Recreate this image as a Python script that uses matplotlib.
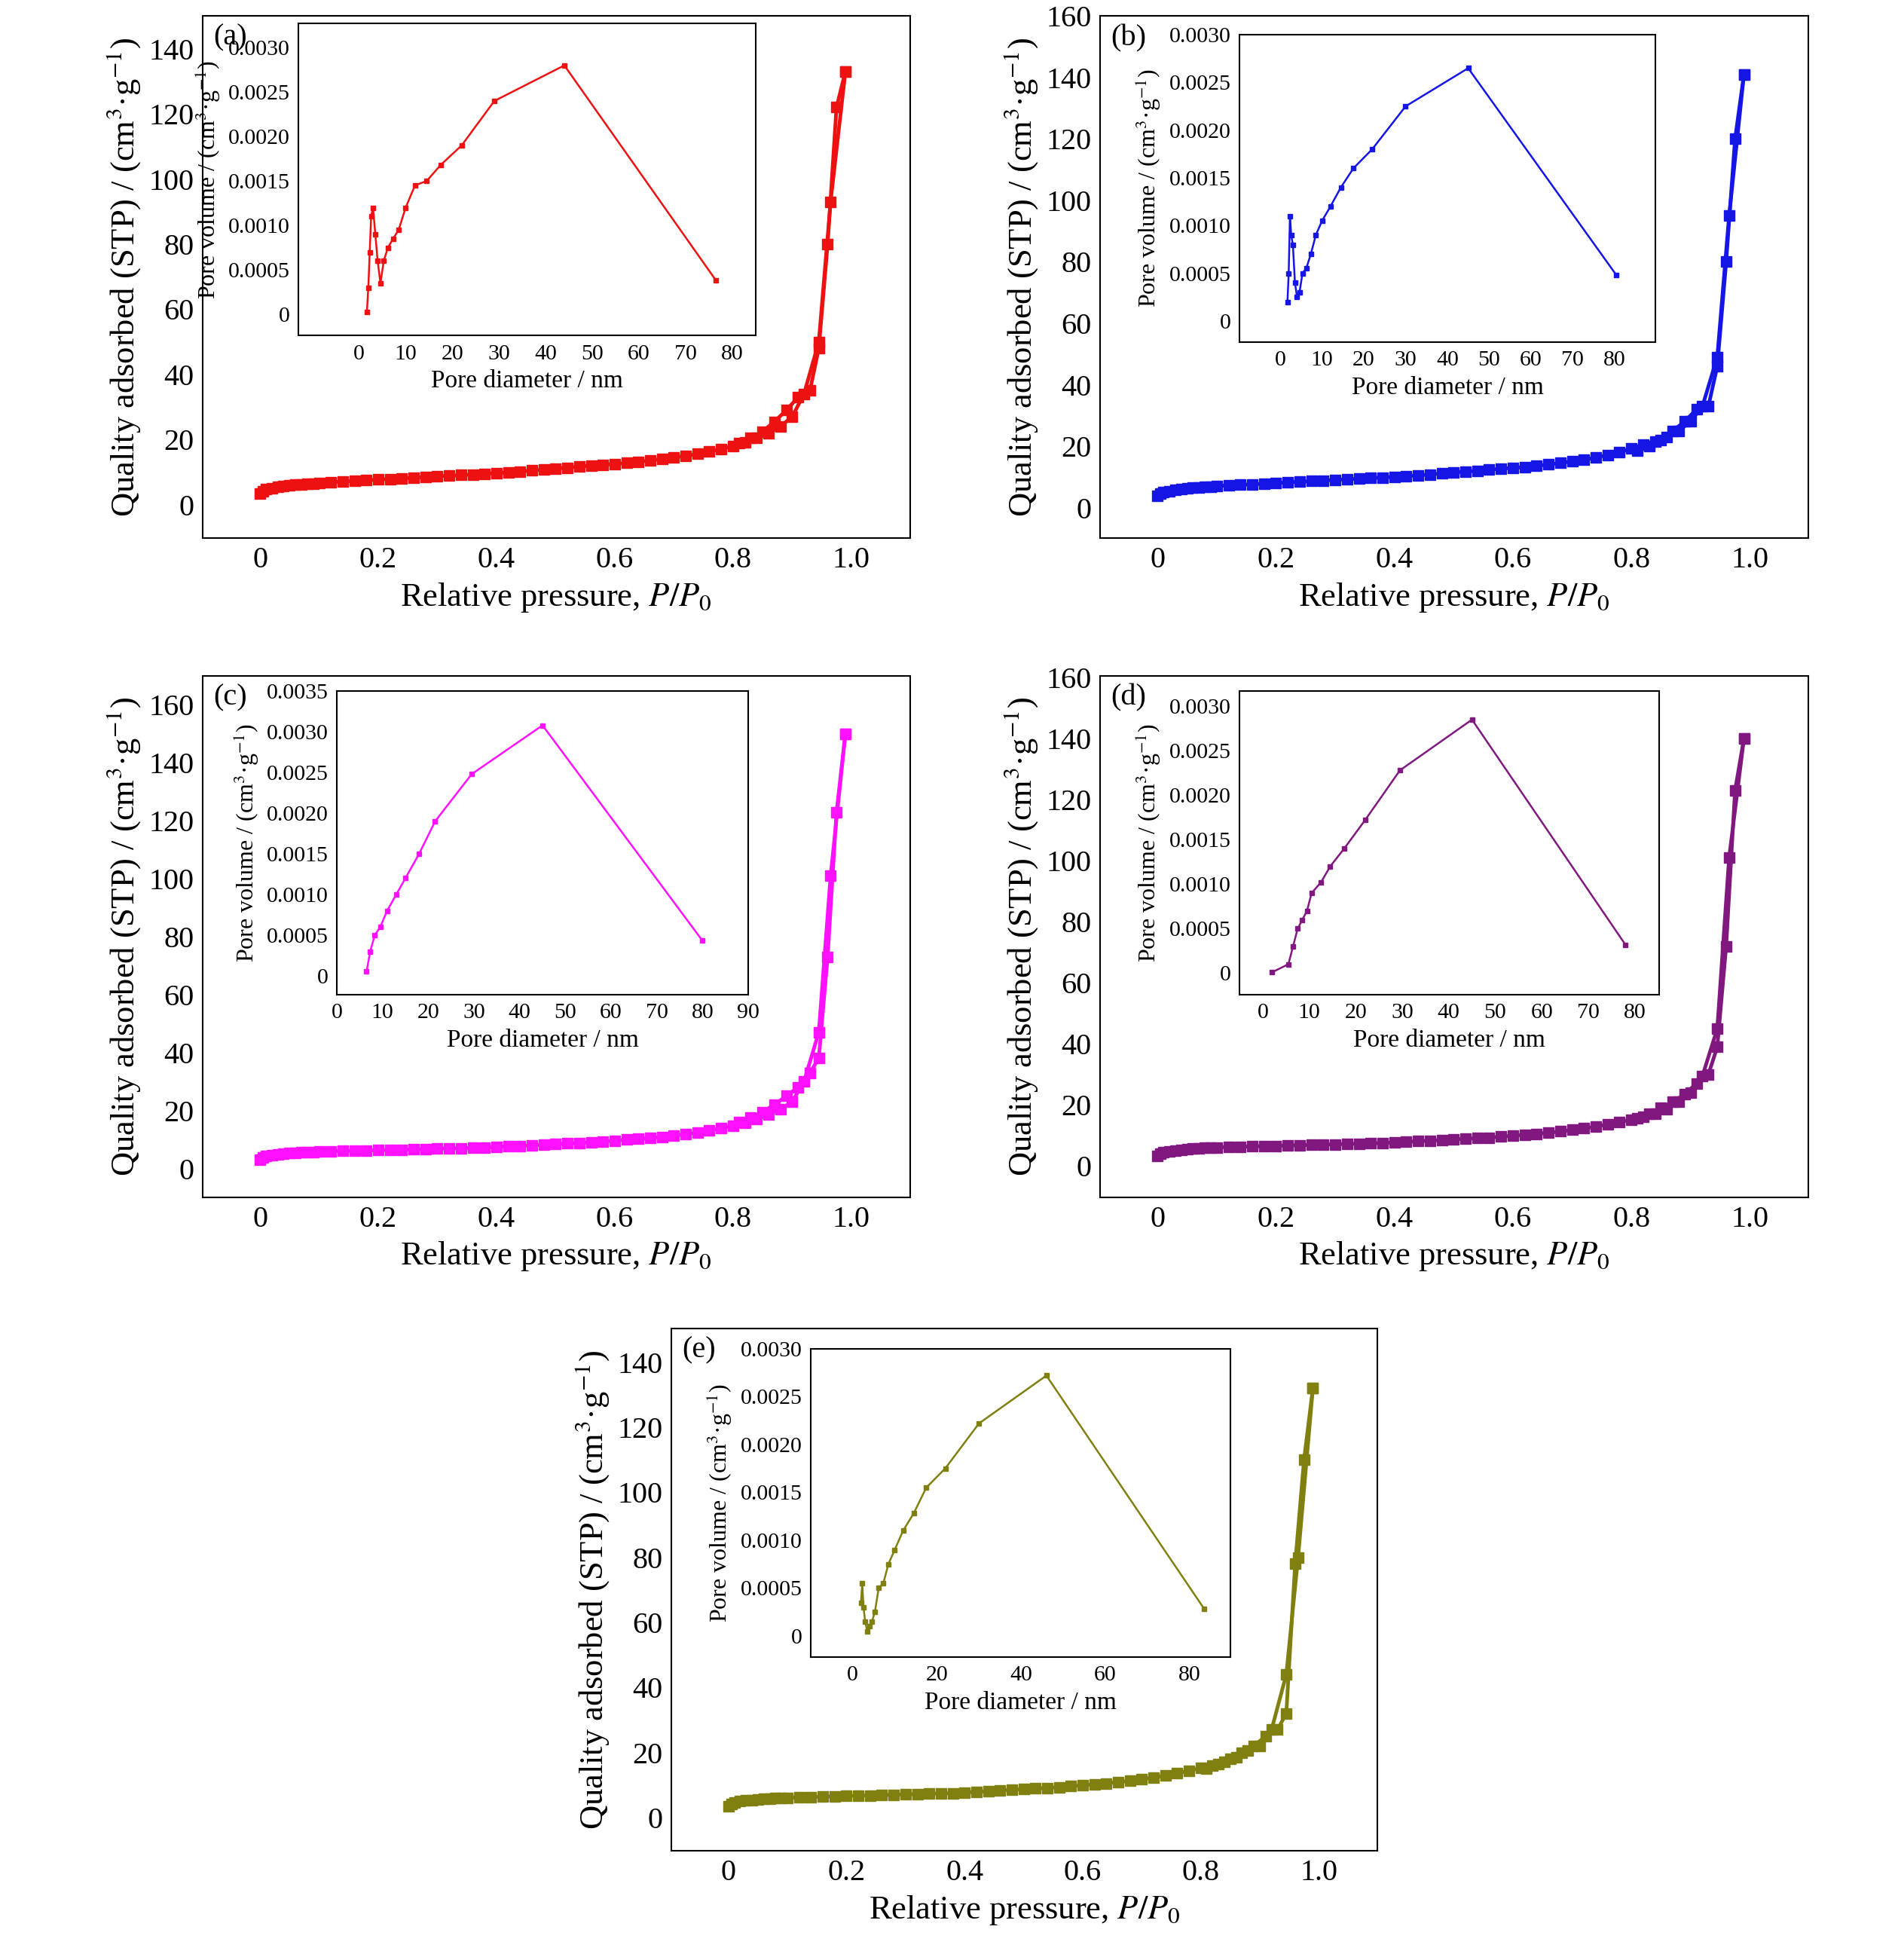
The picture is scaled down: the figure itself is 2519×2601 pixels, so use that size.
import matplotlib
matplotlib.use("Agg")
import matplotlib.pyplot as plt

plt.rcParams['font.family'] = ['Liberation Serif', 'DejaVu Serif']
plt.rcParams['mathtext.fontset'] = 'stix'

W, H = 2519, 2601
S = 2519 / 1527.0

# ---- isotherm data ----
p_ads = [0.0, 0.005, 0.01, 0.02, 0.03, 0.04, 0.05, 0.06, 0.07, 0.08, 0.09, 0.10,
         0.12, 0.14, 0.16, 0.18, 0.20, 0.22, 0.24, 0.26, 0.28, 0.30, 0.32, 0.34,
         0.36, 0.38, 0.40, 0.42, 0.44, 0.46, 0.48, 0.50, 0.52, 0.54, 0.56, 0.58,
         0.60, 0.62, 0.64, 0.66, 0.68, 0.70, 0.72, 0.74, 0.76, 0.78, 0.80, 0.82,
         0.84, 0.86, 0.88, 0.90, 0.92, 0.945, 0.965, 0.99]
p_des = [0.99, 0.975, 0.96, 0.945, 0.93, 0.91, 0.89, 0.87, 0.85, 0.83, 0.81]

q_ads_a = [3.5, 4.2, 4.7, 5.1, 5.4, 5.7, 5.9, 6.1, 6.3, 6.4, 6.5, 6.7,
           6.9, 7.1, 7.3, 7.5, 7.7, 7.9, 8.1, 8.3, 8.5, 8.7, 8.9, 9.1,
           9.3, 9.5, 9.7, 9.9, 10.2, 10.5, 10.8, 11.1, 11.4, 11.7, 12.0, 12.3,
           12.5, 12.8, 13.2, 13.6, 14.0, 14.5, 15.0, 15.6, 16.3, 17.1, 18.0, 19.2,
           20.5, 22.0, 24.0, 27.0, 34.0, 50.0, 93.0, 133.0]
q_des_a = [133.0, 122.0, 80.0, 48.0, 35.0, 33.0, 29.0, 25.5, 22.5, 20.5, 19.0]

q_ads_b = [3.8, 4.6, 5.0, 5.4, 5.7, 6.0, 6.2, 6.4, 6.6, 6.7, 6.8, 7.0,
           7.2, 7.4, 7.6, 7.8, 8.0, 8.2, 8.4, 8.6, 8.8, 9.0, 9.2, 9.4,
           9.6, 9.8, 10.0, 10.2, 10.5, 10.8, 11.1, 11.4, 11.7, 12.0, 12.3, 12.6,
           12.9, 13.2, 13.6, 14.0, 14.5, 15.0, 15.6, 16.3, 17.1, 18.0, 19.2, 20.5,
           21.5, 23.0, 25.0, 28.0, 33.0, 49.0, 95.0, 141.0]
q_des_b = [141.0, 120.0, 80.0, 46.0, 33.0, 32.0, 28.0, 25.0, 22.0, 20.0, 18.5]

q_ads_c = [3.0, 3.8, 4.2, 4.6, 4.9, 5.1, 5.3, 5.4, 5.5, 5.6, 5.7, 5.8,
           5.9, 6.0, 6.1, 6.2, 6.3, 6.4, 6.5, 6.6, 6.7, 6.8, 6.9, 7.0,
           7.1, 7.2, 7.4, 7.6, 7.8, 8.0, 8.2, 8.4, 8.6, 8.8, 9.0, 9.3,
           9.6, 9.9, 10.2, 10.5, 10.9, 11.3, 11.8, 12.4, 13.1, 13.9, 14.8, 15.8,
           17.0, 18.6, 20.5, 23.0, 30.0, 47.0, 101.0, 150.0]
q_des_c = [150.0, 123.0, 73.0, 38.0, 33.0, 28.0, 25.0, 22.0, 19.5, 17.5, 16.0]

q_ads_d = [3.2, 4.0, 4.4, 4.8, 5.1, 5.3, 5.5, 5.7, 5.8, 5.9, 6.0, 6.1,
           6.2, 6.3, 6.4, 6.5, 6.6, 6.7, 6.8, 6.9, 7.0, 7.1, 7.2, 7.3,
           7.4, 7.5, 7.7, 7.9, 8.1, 8.3, 8.5, 8.7, 8.9, 9.1, 9.3, 9.6,
           9.9, 10.2, 10.5, 10.9, 11.3, 11.8, 12.3, 12.9, 13.6, 14.4, 15.2, 16.0,
           17.1, 18.5, 21.0, 24.0, 29.5, 45.0, 101.0, 140.0]
q_des_d = [140.0, 123.0, 72.0, 39.0, 30.0, 27.0, 23.5, 21.0, 19.0, 17.0, 15.5]

q_ads_e = [3.5, 4.2, 4.6, 5.0, 5.2, 5.4, 5.6, 5.7, 5.8, 5.9, 6.0, 6.1,
           6.2, 6.3, 6.4, 6.5, 6.6, 6.7, 6.8, 6.9, 7.0, 7.1, 7.2, 7.3,
           7.4, 7.5, 7.7, 7.9, 8.1, 8.3, 8.5, 8.7, 8.9, 9.1, 9.3, 9.6,
           9.9, 10.2, 10.5, 10.9, 11.3, 11.8, 12.3, 12.9, 13.6, 14.4, 15.2, 16.0,
           17.1, 18.5, 20.5, 22.0, 27.0, 44.0, 80.0, 132.0]
q_des_e = [132.0, 110.0, 78.0, 32.0, 27.0, 25.0, 22.0, 20.0, 18.0, 16.5, 15.0]

# ---- pore size distribution data ----
d_a = [1.7, 2.0, 2.3, 2.6, 3.0, 3.5, 4.0, 4.6, 5.3, 6.2, 7.3, 8.5, 10.0, 12.0, 14.5, 17.5, 22.0, 29.0, 44.0, 76.5]
v_a = [0.00003, 0.0003, 0.0007, 0.0011, 0.0012, 0.0009, 0.0006, 0.00035, 0.0006, 0.00075,
       0.00085, 0.00095, 0.0012, 0.00145, 0.0015, 0.00168, 0.0019, 0.0024, 0.0028, 0.00038]
d_b = [1.7, 2.0, 2.3, 2.6, 3.0, 3.5, 4.0, 4.6, 5.3, 6.2, 7.3, 8.5, 10.0, 12.0, 14.5, 17.5, 22.0, 30.0, 45.0, 80.5]
v_b = [0.0002, 0.0005, 0.0011, 0.0009, 0.0008, 0.0004, 0.00025, 0.0003, 0.0005, 0.00055,
       0.0007, 0.0009, 0.00105, 0.0012, 0.0014, 0.0016, 0.0018, 0.00225, 0.00265, 0.00048]
d_c = [6.5, 7.3, 8.3, 9.5, 11.0, 13.0, 15.0, 18.0, 21.5, 29.5, 45.0, 80.0]
v_c = [0.00005, 0.0003, 0.0005, 0.0006, 0.0008, 0.001, 0.0012, 0.0015, 0.0019, 0.00248, 0.00308, 0.00043]
d_d = [2.0, 5.5, 6.5, 7.5, 8.5, 9.5, 10.5, 12.5, 14.5, 17.5, 22.0, 29.5, 45.0, 78.0]
v_d = [0.00001, 0.0001, 0.0003, 0.0005, 0.0006, 0.0007, 0.0009, 0.00102, 0.0012, 0.0014,
       0.00172, 0.00228, 0.00285, 0.00032]
d_e = [2.0, 2.3, 2.6, 3.0, 3.5, 4.0, 4.6, 5.3, 6.2, 7.3, 8.5, 10.0, 12.0, 14.5, 17.5, 22.0, 30.0, 46.0, 83.5]
v_e = [0.00035, 0.00055, 0.0003, 0.00015, 0.00005, 0.0001, 0.00015, 0.00025, 0.0005, 0.00055,
       0.00075, 0.0009, 0.0011, 0.00128, 0.00155, 0.00175, 0.00222, 0.00272, 0.00028]

panels = [
    dict(lab='(a)', col='#EE1111', ax=(163, 13, 732, 433), ylim=(-10.3, 150), yt=[0, 20, 40, 60, 80, 100, 120, 140],
         qa=q_ads_a, qd=q_des_a, ins=(240, 19, 608, 270), ixl=(-13, 85), iyl=(-0.00024, 0.00327),
         ixt=[0, 10, 20, 30, 40, 50, 60, 70, 80], iyt=[0, 0.0005, 0.001, 0.0015, 0.002, 0.0025, 0.003], d=d_a, v=v_a),
    dict(lab='(b)', col='#1515E6', ax=(885, 13, 1455, 433), ylim=(-10, 160), yt=[0, 20, 40, 60, 80, 100, 120, 140, 160],
         qa=q_ads_b, qd=q_des_b, ins=(997, 28, 1332, 275), ixl=(-9.85, 89.9), iyl=(-0.00022, 0.003),
         ixt=[0, 10, 20, 30, 40, 50, 60, 70, 80], iyt=[0, 0.0005, 0.001, 0.0015, 0.002, 0.0025, 0.003], d=d_b, v=v_b),
    dict(lab='(c)', col='#FF11FF', ax=(163, 544, 732, 963), ylim=(-9.9, 169.9), yt=[0, 20, 40, 60, 80, 100, 120, 140, 160],
         qa=q_ads_c, qd=q_des_c, ins=(271, 556, 602, 800), ixl=(0, 90), iyl=(-0.00023, 0.0035),
         ixt=[0, 10, 20, 30, 40, 50, 60, 70, 80, 90], iyt=[0, 0.0005, 0.001, 0.0015, 0.002, 0.0025, 0.003, 0.0035], d=d_c, v=v_c),
    dict(lab='(d)', col='#801880', ax=(885, 544, 1455, 963), ylim=(-10.2, 160.4), yt=[0, 20, 40, 60, 80, 100, 120, 140, 160],
         qa=q_ads_d, qd=q_des_d, ins=(997, 556, 1335, 800), ixl=(-5.07, 85.3), iyl=(-0.00024, 0.00317),
         ixt=[0, 10, 20, 30, 40, 50, 60, 70, 80], iyt=[0, 0.0005, 0.001, 0.0015, 0.002, 0.0025, 0.003], d=d_d, v=v_d),
    dict(lab='(e)', col='#808010', ax=(540, 1069, 1108, 1489), ylim=(-10.3, 150.3), yt=[0, 20, 40, 60, 80, 100, 120, 140],
         qa=q_ads_e, qd=q_des_e, ins=(652, 1085, 990, 1333), ixl=(-10, 89.7), iyl=(-0.00022, 0.003),
         ixt=[0, 20, 40, 60, 80], iyt=[0, 0.0005, 0.001, 0.0015, 0.002, 0.0025, 0.003], d=d_e, v=v_e),
]

fig = plt.figure(figsize=(W / 100, H / 100), dpi=100)

def rect(b):
    x0, y0, x1, y1 = [c * S for c in b]
    return [x0 / W, 1 - y1 / H, (x1 - x0) / W, (y1 - y0) / H]

for P in panels:
    ax = fig.add_axes(rect(P['ax']))
    ax.plot(p_ads, P['qa'], '-s', color=P['col'], ms=10, lw=3.5)
    ax.plot(p_des, P['qd'], '-s', color=P['col'], ms=10, lw=3.5)
    ax.set_xlim(-0.097, 1.099)
    ax.set_ylim(*P['ylim'])
    ax.set_xticks([0, 0.2, 0.4, 0.6, 0.8, 1.0])
    ax.set_xticklabels(['0', '0.2', '0.4', '0.6', '0.8', '1.0'])
    ax.set_yticks(P['yt'])
    ax.tick_params(direction='in', labelsize=29, length=0, pad=8)
    for sp in ax.spines.values():
        sp.set_linewidth(1.5)
    ax.set_xlabel('Relative pressure, $P/P_0$', fontsize=32, labelpad=6)
    ax.set_ylabel('Quality adsorbed (STP) / (cm$^3$·g$^{-1}$)', fontsize=32, labelpad=6)
    ax.text(0.015, 0.985, P['lab'], transform=ax.transAxes, fontsize=29, va='top', ha='left')

    ia = fig.add_axes(rect(P['ins']))
    ia.plot(P['d'], P['v'], '-s', color=P['col'], ms=5, lw=1.8)
    ia.set_xlim(*P['ixl'])
    ia.set_ylim(*P['iyl'])
    ia.set_xticks(P['ixt'])
    ia.set_yticks(P['iyt'])
    ia.set_yticklabels(['0' if t == 0 else '%.4f' % t for t in P['iyt']])
    ia.tick_params(direction='in', labelsize=21.5, length=0, pad=8)
    for sp in ia.spines.values():
        sp.set_linewidth(1.5)
    ia.set_xlabel('Pore diameter / nm', fontsize=24, labelpad=6)
    ia.set_ylabel('Pore volume / (cm$^3$·g$^{-1}$)', fontsize=23, labelpad=6)

fig.savefig('out.png', dpi=100)
